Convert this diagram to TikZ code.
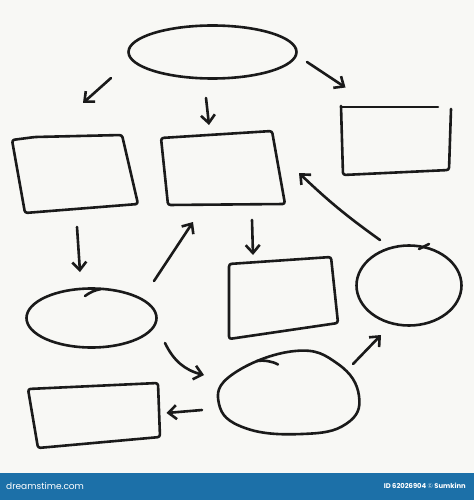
\documentclass[tikz,border=0pt]{standalone}
\usepackage{fontspec}
\usetikzlibrary{arrows.meta,shapes.geometric,fit,calc}
\definecolor{inkc}{HTML}{1A1A1A}
\definecolor{paper}{HTML}{F8F8F5}
\definecolor{barc}{HTML}{1C70A8}
\newfontfamily\barfont{Poppins}
\begin{document}
\begin{tikzpicture}[x=1pt,y=-1pt,
  ink/.style={draw=inkc, line width=2.6pt, line cap=round, line join=round},
  arr/.style={ink, -{Straight Barb[length=8pt,width=14pt]}},
  oval/.style={ellipse, ink, inner sep=0pt, outer sep=0pt},
  hidden/.style={inner sep=0pt, outer sep=0pt, draw=none},
  boxline/.style={ink, rounded corners=2.5pt}
]
\fill[paper] (0,0) rectangle (474,500);
\useasboundingbox (0,0) rectangle (474,500);

% ---- ovals ----
\node[oval, minimum width=168pt, minimum height=53pt] (top) at (212.5,52) {};
\node[oval, minimum width=105pt, minimum height=80pt] (E) at (409,285.5) {};
\node[oval, minimum width=130pt, minimum height=59pt] (L) at (91.5,318) {};
\node[hidden, ellipse, minimum width=141pt, minimum height=83pt] (M) at (289,393) {};
\draw[ink] plot[smooth cycle, tension=0.75] coordinates
  {(295,351) (338,364) (359,396) (346,424) (302,434) (245,428) (219,404) (233,374)};
% hand-drawn overlaps
\draw[ink] (85,296) to[bend left=12] (101,289);
\draw[ink] (257,361) .. controls (263,360) and (272,361) .. (278,364.5);
\draw[ink] (419,249) -- (429,244);

% ---- boxes ----
\coordinate (a1) at (12,140); \coordinate (a2) at (122,135);
\coordinate (a3) at (138,204); \coordinate (a4) at (25,213);
\draw[boxline] (a1) -- (35,137) -- (a2) -- (a3) -- (a4) -- cycle;
\node[hidden, fit=(a1)(a2)(a3)(a4)] (boxA) {};

\coordinate (b1) at (161,138); \coordinate (b2) at (272,131);
\coordinate (b3) at (285,204); \coordinate (b4) at (168,205);
\draw[boxline] (b1) -- (b2) -- (b3) -- (b4) -- cycle;
\node[hidden, fit=(b1)(b2)(b3)(b4)] (boxB) {};

\coordinate (c1) at (342,107); \coordinate (c2) at (438,107);
\coordinate (c3) at (451,109); \coordinate (c4) at (449,170);
\coordinate (c5) at (343,175);
\draw[ink] (c1) -- (c2);
\draw[boxline] (c3) -- (c4) -- (c5) -- (341,106);
\node[hidden, fit=(c1)(c2)(c3)(c4)(c5)] (boxC) {};

\coordinate (d1) at (229,264); \coordinate (d2) at (331,257);
\coordinate (d3) at (338,323); \coordinate (d4) at (229,339);
\draw[boxline] (d1) -- (d2) -- (d3) -- (d4) -- cycle;
\node[hidden, fit=(d1)(d2)(d3)(d4)] (boxD) {};

\coordinate (f1) at (28,389); \coordinate (f2) at (158,383);
\coordinate (f3) at (160,437); \coordinate (f4) at (38,448);
\draw[boxline] (f1) -- (f2) -- (f3) -- (f4) -- cycle;
\node[hidden, fit=(f1)(f2)(f3)(f4)] (boxF) {};

% ---- connectors ----
\draw[arr] ($(top)+(-101.5,26)$) -- ($(boxA)+(8,-71)$);
\draw[arr] ($(top)+(-6.5,46)$) -- ($(boxB)+(-14,-43)$);
\draw[arr] ($(top)+(94.5,10)$) -- ($(boxC)+(-51,-53.5)$);
\draw[arr] ($(boxA)+(2,53)$) -- ($(L)+(-11.5,-46)$);
\draw[arr] ($(L)+(62.5,-37)$) -- ($(boxB)+(-30,54)$);
\draw[arr] ($(boxB)+(29,52)$) -- ($(boxD)+(-30.5,-43)$);
\draw[arr] ($(E)+(-29,-45.5)$) to[bend left=4] ($(boxB)+(76,5)$);
\draw[arr] ($(L)+(73.5,25)$) to[bend right=25] ($(M)+(-85,-18)$);
\draw[arr] ($(M)+(64,-29)$) -- ($(E)+(-28,49.5)$);
\draw[arr] ($(M)+(-87,17)$) -- ($(boxF)+(72.5,-2.5)$);

% ---- bottom bar ----
\fill[barc] (0,473) rectangle (474,500);
\node[anchor=west, text=white, inner sep=0pt, font=\barfont\fontsize{9}{10}\selectfont] (brand) at (6,486) {dreamstime.com};
\node[anchor=east, text=white, inner sep=0pt, font=\barfont\bfseries\fontsize{6.8}{8}\selectfont] (credit) at (466,486) {ID 62026904 {\color{white!55!barc}©} Sumkinn};
\end{tikzpicture}
\end{document}
